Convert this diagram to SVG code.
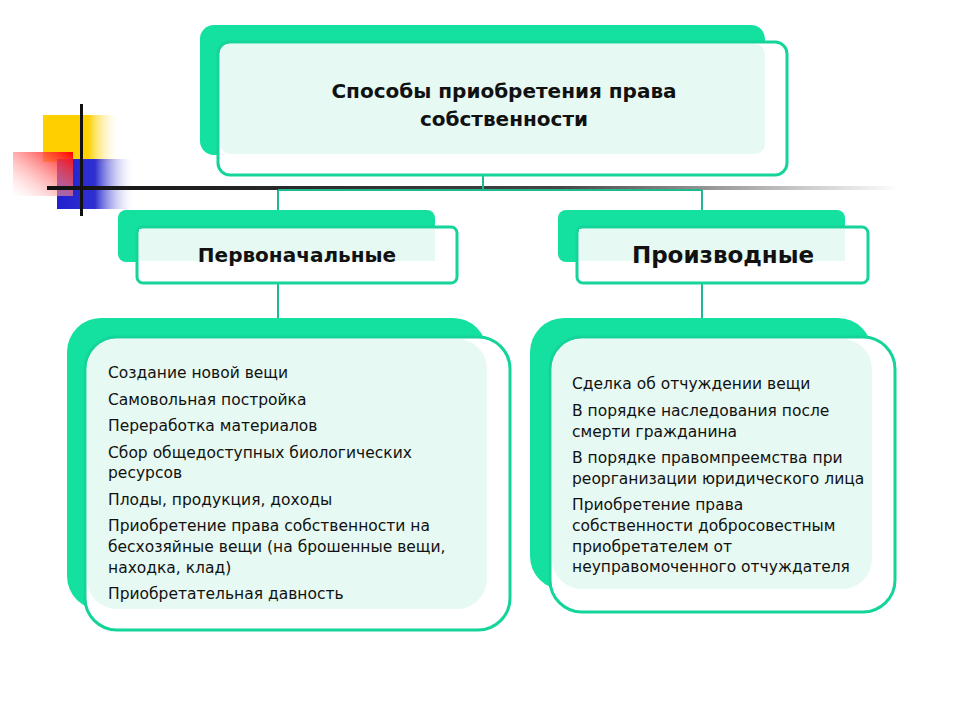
<svg xmlns="http://www.w3.org/2000/svg" width="960" height="720" viewBox="0 0 960 720">
<defs>
<linearGradient id="gy" x1="0" x2="1"><stop offset="0" stop-color="#ffd000"/><stop offset="0.6" stop-color="#ffd000"/><stop offset="1" stop-color="#fff" stop-opacity="0.2"/></linearGradient>
<linearGradient id="gr" x1="1" x2="0" y1="0" y2="1"><stop offset="0" stop-color="#ff0000"/><stop offset="1" stop-color="#fff" stop-opacity="0.3"/></linearGradient>
<linearGradient id="gb" x1="0" x2="1"><stop offset="0" stop-color="#2020d0"/><stop offset="0.5" stop-color="#3030d0"/><stop offset="1" stop-color="#fff" stop-opacity="0.2"/></linearGradient>
<linearGradient id="gl" x1="0" x2="1"><stop offset="0" stop-color="#111"/><stop offset="0.6" stop-color="#444"/><stop offset="1" stop-color="#fff"/></linearGradient>
</defs>
<style>
.back{fill:#14e0a0}
.front{fill:#fff;stroke:#14d49a;stroke-width:3}
.mint{fill:#e6f9f2}
.c{stroke:#1fb890;stroke-width:2;fill:none}
.t{font-family:Verdana,"DejaVu Sans",sans-serif;fill:#111}
.h{font-weight:bold;text-anchor:middle}
.l{font-size:15.5px}
</style>
<rect width="960" height="720" fill="#fff"/>
<g id="deco">
<rect x="43" y="115" width="75" height="47" fill="url(#gy)"/>
<rect x="57" y="159" width="76" height="50" fill="url(#gb)"/>
<rect x="13" y="152" width="60" height="44" fill="url(#gr)"/>
<rect x="47" y="186" width="853" height="4" fill="url(#gl)"/>
<rect x="80" y="104" width="3" height="112" fill="#111"/>
</g>
<g id="connectors">
<path class="c" d="M483 175V190M278 190H702M278 190V210M702 190V210M278 283V318M702 283V318"/>
</g>
<g id="top">
<rect class="back" x="200" y="25" width="565" height="130" rx="14"/>
<rect class="front" x="218" y="42" width="569" height="133" rx="12"/>
<rect class="mint" x="220" y="44" width="545" height="110" rx="10"/>
<text class="t h" x="504" y="98" font-size="20">Способы приобретения права</text>
<text class="t h" x="504" y="126" font-size="20">собственности</text>
</g>
<g id="left-head">
<rect class="back" x="118" y="210" width="317" height="52" rx="8"/>
<rect class="front" x="137" y="227" width="320" height="56" rx="6"/>
<rect class="mint" x="139" y="229" width="296" height="32"/>
<text class="t h" x="297" y="262" font-size="20">Первоначальные</text>
</g>
<g id="right-head">
<rect class="back" x="558" y="210" width="287" height="52" rx="8"/>
<rect class="front" x="577" y="227" width="291" height="56" rx="6"/>
<rect class="mint" x="579" y="229" width="266" height="32"/>
<text class="t h" x="723" y="263" font-size="23">Производные</text>
</g>
<g id="left-list">
<rect class="back" x="67" y="318" width="420" height="292" rx="34"/>
<rect class="front" x="85" y="337" width="425" height="293" rx="32"/>
<rect class="mint" x="87" y="339" width="400" height="270" rx="30"/>
<g class="t l">
<text x="108" y="378">Создание новой вещи</text>
<text x="108" y="405">Самовольная постройка</text>
<text x="108" y="431">Переработка материалов</text>
<text x="108" y="458">Сбор общедоступных биологических</text>
<text x="108" y="478">ресурсов</text>
<text x="108" y="505">Плоды, продукция, доходы</text>
<text x="108" y="531">Приобретение права собственности на</text>
<text x="108" y="552">бесхозяйные вещи (на брошенные вещи,</text>
<text x="108" y="573">находка, клад)</text>
<text x="108" y="599">Приобретательная давность</text>
</g>
</g>
<g id="right-list">
<rect class="back" x="530" y="318" width="342" height="272" rx="34"/>
<rect class="front" x="550" y="337" width="345" height="275" rx="32"/>
<rect class="mint" x="552" y="339" width="320" height="250" rx="30"/>
<g class="t l">
<text x="572" y="389">Сделка об отчуждении вещи</text>
<text x="572" y="416">В порядке наследования после</text>
<text x="572" y="437">смерти гражданина</text>
<text x="572" y="463">В порядке правомпреемства при</text>
<text x="572" y="484">реорганизации юридического лица</text>
<text x="572" y="510">Приобретение права</text>
<text x="572" y="531">собственности добросовестным</text>
<text x="572" y="552">приобретателем от</text>
<text x="572" y="572">неуправомоченного отчуждателя</text>
</g>
</g>
</svg>
